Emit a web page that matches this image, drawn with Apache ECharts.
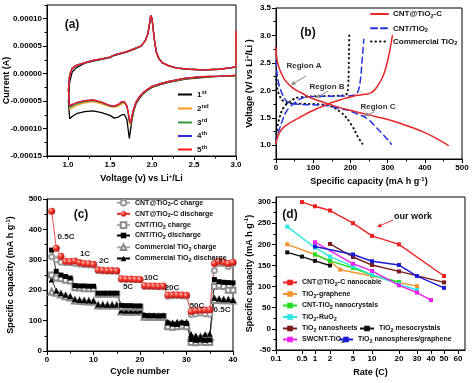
<!DOCTYPE html>
<html><head><meta charset="utf-8">
<script src="https://cdn.jsdelivr.net/npm/echarts@6/dist/echarts.min.js"></script>
<style>html,body{margin:0;padding:0;background:#fff}#c{width:474px;height:383px}</style>
</head><body><div id="c"></div>
<script>
const FONT = 'Liberation Sans';

// ---------- Panel (a): cyclic voltammetry ----------
const cvCycles = ['1st','2nd','3rd','4th','5th'];
const cvCathV = [3.0,2.8,2.6,2.4,2.2,2.1,2.0,1.95,1.9,1.85,1.81,1.78,1.76,1.745,1.73,1.715,1.7,1.67,1.64,1.6,1.55,1.5,1.4,1.3,1.2,1.1,1.05,1.02,1.0];
const cvCath1 = [-0.4e-5,-0.5e-5,-0.7e-5,-1.0e-5,-1.6e-5,-2.0e-5,-2.5e-5,-3.0e-5,-3.6e-5,-4.5e-5,-5.5e-5,-7.0e-5,-8.6e-5,-10.2e-5,-11.8e-5,-10.0e-5,-8.3e-5,-7.4e-5,-7.5e-5,-7.9e-5,-8.1e-5,-7.6e-5,-7.1e-5,-6.8e-5,-6.9e-5,-7.3e-5,-7.8e-5,-8.2e-5,-8.5e-5];
const cvCath2 = [-0.35e-5,-0.5e-5,-0.6e-5,-0.9e-5,-1.5e-5,-1.9e-5,-2.4e-5,-2.9e-5,-3.5e-5,-4.3e-5,-5.3e-5,-6.7e-5,-8.1e-5,-9.4e-5,-9.0e-5,-7.2e-5,-6.0e-5,-5.4e-5,-5.5e-5,-5.9e-5,-6.1e-5,-6.0e-5,-5.5e-5,-5.1e-5,-5.3e-5,-5.8e-5,-6.2e-5,-6.5e-5,-6.8e-5];
const cvCath3 = [-0.3e-5,-0.45e-5,-0.55e-5,-0.8e-5,-1.4e-5,-1.8e-5,-2.3e-5,-2.85e-5,-3.45e-5,-4.25e-5,-5.25e-5,-6.6e-5,-7.9e-5,-9.1e-5,-8.6e-5,-7.0e-5,-5.9e-5,-5.2e-5,-5.3e-5,-5.7e-5,-6.0e-5,-5.9e-5,-5.3e-5,-4.9e-5,-5.1e-5,-5.5e-5,-5.9e-5,-6.1e-5,-6.4e-5];
const cvCath4 = [-0.3e-5,-0.45e-5,-0.55e-5,-0.8e-5,-1.4e-5,-1.8e-5,-2.3e-5,-2.8e-5,-3.4e-5,-4.2e-5,-5.2e-5,-6.5e-5,-7.8e-5,-9.0e-5,-8.4e-5,-6.9e-5,-5.8e-5,-5.1e-5,-5.1e-5,-5.6e-5,-5.9e-5,-5.8e-5,-5.2e-5,-4.8e-5,-4.9e-5,-5.3e-5,-5.7e-5,-5.9e-5,-6.2e-5];
const cvCath5 = [-0.3e-5,-0.45e-5,-0.55e-5,-0.8e-5,-1.4e-5,-1.8e-5,-2.3e-5,-2.8e-5,-3.4e-5,-4.2e-5,-5.2e-5,-6.5e-5,-7.8e-5,-8.9e-5,-8.2e-5,-6.8e-5,-5.8e-5,-5.1e-5,-5.1e-5,-5.6e-5,-5.9e-5,-5.8e-5,-5.2e-5,-4.8e-5,-4.9e-5,-5.3e-5,-5.6e-5,-5.8e-5,-6.1e-5];
const cvAnodV = [1.005,1.02,1.05,1.1,1.2,1.3,1.4,1.5,1.55,1.6,1.7,1.8,1.87,1.92,1.95,1.97,1.985,2.0,2.015,2.03,2.05,2.08,2.12,2.2,2.3,2.45,2.6,2.8,2.95,3.0];
const cvAnod1 = [-5.0e-5,-1.5e-5,0.3e-5,1.1e-5,1.9e-5,2.3e-5,2.6e-5,2.9e-5,3.3e-5,3.5e-5,3.9e-5,4.5e-5,5.0e-5,6.0e-5,7.2e-5,9.0e-5,10.4e-5,10.0e-5,8.0e-5,6.0e-5,4.0e-5,2.8e-5,2.0e-5,1.4e-5,1.0e-5,0.8e-5,0.7e-5,0.8e-5,1.1e-5,1.3e-5];
const cvAnod = [-3.0e-5,-0.2e-5,1.0e-5,1.5e-5,2.0e-5,2.4e-5,2.7e-5,3.0e-5,3.4e-5,3.6e-5,4.0e-5,4.6e-5,5.0e-5,6.0e-5,7.2e-5,9.0e-5,10.6e-5,10.1e-5,8.0e-5,6.0e-5,4.0e-5,2.8e-5,2.0e-5,1.4e-5,1.0e-5,0.8e-5,0.7e-5,0.8e-5,1.1e-5,1.3e-5];
const cv5thEnd = [3.0, 7.8e-5];
const cvColors = ['#000000','#ff9a1a','#2e9a3c','#2a2ae0','#ff1a1a'];

// ---------- Panel (b): charge/discharge profiles [capacity, voltage] ----------
const bNames = ['CNT@TiO2-C','CNT/TiO2','Commercial TiO2'];
const bRedDis = [[0,2.78],[1,2.66],[3,2.55],[6,2.46],[10,2.38],[15,2.3],[21,2.22],[30,2.14],[44,2.05],[60,1.98],[75,1.93],[92,1.87],[111,1.82],[130,1.78],[147,1.74],[170,1.69],[192,1.65],[220,1.6],[246,1.56],[275,1.51],[300,1.47],[325,1.42],[350,1.36],[375,1.3],[400,1.23],[430,1.13],[463,1.0]];
const bRedCha = [[0,1.03],[2,1.1],[6,1.18],[12,1.26],[21,1.33],[35,1.4],[48,1.45],[62,1.5],[75,1.55],[92,1.61],[111,1.67],[130,1.72],[147,1.77],[165,1.81],[183,1.85],[200,1.88],[219,1.91],[235,1.925],[246,1.935],[256,1.96],[264,2.0],[272,2.07],[282,2.18],[290,2.3],[298,2.48],[304,2.66],[310,2.88],[313,3.0]];
const bBlueDis = [[0,2.55],[2,2.35],[5,2.2],[9,2.08],[15,1.96],[22,1.86],[30,1.79],[40,1.76],[55,1.75],[80,1.74],[110,1.735],[140,1.72],[165,1.68],[192,1.64],[215,1.58],[237,1.52],[255,1.43],[273,1.3],[290,1.18],[302,1.09],[310,1.02]];
const bBlueCha = [[0,1.05],[3,1.15],[7,1.25],[12,1.35],[21,1.52],[30,1.64],[44,1.74],[62,1.83],[75,1.87],[100,1.89],[150,1.895],[200,1.9],[212,1.92],[219,1.96],[224,2.06],[228,2.25],[231,2.5],[234,2.75],[236,2.93]];
const bComDis = [[0,2.2],[2,2.08],[5,1.98],[8,1.93],[12,1.87],[17,1.82],[24,1.79],[30,1.77],[50,1.76],[80,1.755],[110,1.75],[140,1.73],[155,1.69],[165,1.65],[180,1.57],[192,1.48],[202,1.38],[210,1.29],[219,1.17],[226,1.09],[232,1.03]];
const bComCha = [[0,1.12],[2,1.25],[5,1.37],[8,1.47],[12,1.56],[17,1.65],[24,1.72],[30,1.76],[40,1.81],[53,1.86],[70,1.88],[100,1.89],[130,1.895],[160,1.9],[185,1.91],[192,1.95],[195,2.2],[196,2.6],[197,3.02]];

// ---------- Panel (c): rate capability vs cycle ----------
const cCycles = [1,2,3,4,5,6,7,8,9,10,11,12,13,14,15,16,17,18,19,20,21,22,23,24,25,26,27,28,29,30,31,32,33,34,35,36,37,38,39,40];
const cNames = ['CNT@TiO2-C charge','CNT@TiO2-C discharge','CNT/TiO2 charge','CNT/TiO2 discharge','Commercial TiO2 charge','Commercial TiO2 discharge'];
const cRedCha = [310,300,292,290,290,288,285,284,283,282,264,263,262,262,262,236,235,235,234,234,212,212,211,211,211,180,182,182,181,180,120,122,125,122,121,265,288,287,278,288];
const cRedDis = [460,338,312,295,294,296,291,288,287,285,267,266,265,265,264,238,237,237,236,235,215,214,214,213,214,184,185,185,184,183,130,133,134,135,136,288,295,293,288,292];
const cCntCha = [250,240,238,233,230,208,207,205,205,205,186,187,187,187,187,145,145,145,144,144,113,113,113,113,113,80,78,80,82,80,28,27,30,28,28,212,215,212,200,200];
const cCntDis = [332,262,250,245,240,215,214,214,213,213,190,190,190,190,190,150,149,149,148,148,117,116,116,115,116,92,88,87,92,90,38,35,36,35,36,235,228,226,225,224];
const cComCha = [195,192,186,180,176,166,165,164,163,162,150,150,150,150,150,130,129,129,129,129,113,112,112,112,112,85,83,85,86,85,45,44,45,44,46,168,168,167,167,166];
const cComDis = [235,198,190,185,180,170,168,167,166,165,153,153,152,152,152,133,132,132,132,132,116,115,115,115,115,96,94,96,95,96,55,50,48,55,57,175,172,170,170,168];
const cRateLabels = ['0.5C','1C','2C','5C','10C','20C','50C','0.5C'];

// ---------- Panel (d): comparison vs rate ----------
const dNames = ['CNT@TiO2-C nanocable','TiO2-graphene','CNT-TiO2 nanocrystals','TiO2-RuO2','TiO2 nanosheets','TiO2 mesocrystals','SWCNT-TiO2','TiO2 nanospheres/graphene'];
const dRateOurs = [0.5,1,2,5,10,20,50];      const dCapOurs = [300,290,280,250,220,200,125];
const dRateTG = [0.2,1,2,3,10,20,30];         const dCapTG = [200,176,160,140,125,110,101];
const dRateCNT = [1,2,5,10,20];               const dCapCNT = [176,161,144,127,111];
const dRateRu = [0.2,1,2,5,10,20,30];         const dCapRu = [242,192,171,148,128,106,92];
const dRateNS = [2,5,10,20,50];               const dCapNS = [201,170,151,136,110];
const dRateMeso = [0.2,0.5,1,2];              const dCapMeso = [181,171,161,150];
const dRateSW = [1,5,10,20,30,40];            const dCapSW = [205,154,137,103,86,68];
const dRateNSG = [1,5,10,20,30,50];           const dCapNSG = [195,176,160,151,125,97];
const dColors = ['#ee2222','#f39430','#22dd22','#2ee6e6','#7a1c1c','#111111','#ee22ee','#1c1cd6'];
// the rate axis of the original figure is non-uniform: tick values and their axis positions
const rateTicks = [0.1,0.5,1,2,5,10,20,30,40,50,60];
const rateTickPos = [0,26,39,54,77,96,123,141,155,168,182];
const rateAxisMax = 189;
function rateToU(r){
  for (let i=0;i<rateTicks.length-1;i++){
    if (r>=rateTicks[i] && r<=rateTicks[i+1]){
      const f=(Math.log(r)-Math.log(rateTicks[i]))/(Math.log(rateTicks[i+1])-Math.log(rateTicks[i]));
      return rateTickPos[i]+f*(rateTickPos[i+1]-rateTickPos[i]);
    }
  }
  return rateTickPos[rateTickPos.length-1];
}

// ---------- helpers ----------
const RICH = {
  s:{fontSize:5.5, padding:[4,0,0,0]},
  p:{fontSize:6, padding:[0,0,5,0]}
};
function richName(n){ return n.replace(/O2/g,'O{s|2}').replace(/^(\d)(st|nd|rd|th)$/,'$1{p|$2}'); }
const grids = [
  {left:47, top:5, width:189, height:151},
  {left:276, top:8, width:186, height:151},
  {left:47, top:199, width:186, height:152},
  {left:276, top:197, width:189, height:153}
];
const xAxes=[], yAxes=[];
function addAxis(list, gi, isX, o){
  const pos = isX?'bottom':'left';
  const ax = {type:'value', gridIndex:gi, min:o.min, max:o.max, position:pos,
    axisLine:{show:true,onZero:false,lineStyle:{color:'#000',width:1}},
    axisTick:{show:true,customValues:o.major,length:4,lineStyle:{color:'#000',width:1}},
    axisLabel:{show:true,customValues:o.major,formatter:o.fmt,margin:o.margin||5,fontFamily:FONT,fontWeight:'bold',fontSize:8,color:'#000',hideOverlap:false},
    splitLine:{show:false},
    name:o.name,nameLocation:'middle',nameGap:o.gap,
    nameTextStyle:{fontFamily:FONT,fontWeight:'bold',fontSize:9,color:'#000',rich:RICH}
  };
  if (o.noMove) ax.nameMoveOverlap = false;
  list.push(ax);
  list.push({type:'value', gridIndex:gi, min:o.min, max:o.max, position:pos,
    axisLine:{show:false,onZero:false},
    axisTick:{show:!!o.minor,customValues:o.minor||[],length:2.5,lineStyle:{color:'#000',width:1}},
    axisLabel:{show:false}, splitLine:{show:false}
  });
}
// (a)
addAxis(xAxes,0,true,{min:0.75,max:3.0,major:[1,1.5,2,2.5,3],minor:[0.75,1.25,1.75,2.25,2.75],fmt:v=>v.toFixed(1),name:'Voltage (v) vs Li{p|+}/Li',gap:17});
addAxis(yAxes,0,false,{min:-0.00015,max:0.000125,major:[-0.00015,-0.0001,-0.00005,0,0.00005,0.0001],minor:[-0.000125,-0.000075,-0.000025,0.000025,0.000075,0.000125],fmt:v=>v.toFixed(5),name:'Current (A)',gap:36,noMove:true});
// (b)
addAxis(xAxes,1,true,{min:0,max:500,major:[0,100,200,300,400,500],minor:[50,150,250,350,450],fmt:v=>String(v),name:'Specific capacity (mA h g{p|-1})',gap:17});
addAxis(yAxes,1,false,{min:0.75,max:3.5,major:[1,1.5,2,2.5,3,3.5],minor:[0.75,1.25,1.75,2.25,2.75,3.25],fmt:v=>v.toFixed(1),name:'Voltage (V/ vs Li{p|+}/Li )',gap:21});
// (c)
addAxis(xAxes,2,true,{min:0,max:40,major:[0,10,20,30,40],minor:[5,15,25,35],fmt:v=>String(v),name:'Cycle number',gap:16});
addAxis(yAxes,2,false,{min:0,max:500,major:[0,100,200,300,400,500],minor:[50,150,250,350,450],fmt:v=>String(v),name:'Specific capacity (mA h g{p|-1})',gap:31});
// (d)
addAxis(xAxes,3,true,{min:0,max:rateAxisMax,major:rateTickPos,minor:null,fmt:v=>{const i=rateTickPos.indexOf(v);return i>=0?String(rateTicks[i]):'';},name:'Rate (C)',gap:18});
addAxis(yAxes,3,false,{min:-50,max:312,major:[-50,0,50,100,150,200,250,300],minor:[-25,25,75,125,175,225,275],fmt:v=>String(v),name:'Specific capacity (mA h g{p|-1})',gap:21});

const series=[];
// (a)
const cvCath=[cvCath1,cvCath2,cvCath3,cvCath4,cvCath5];
cvCycles.forEach((nm,k)=>{
  const an = k===0?cvAnod1:cvAnod;
  const pts = cvCathV.map((v,i)=>[v,cvCath[k][i]]).concat(cvAnodV.map((v,i)=>[v,an[i]]));
  if(k===4) pts.push(cv5thEnd);
  series.push({type:'line',name:nm,xAxisIndex:0,yAxisIndex:0,data:pts,symbol:'none',
    lineStyle:{color:cvColors[k],width:1.3},itemStyle:{color:cvColors[k]}});
});
// (b)
function bLine(name,data,color,type,width,withName){
  series.push({type:'line',name:withName?name:name+'_',xAxisIndex:2,yAxisIndex:2,data,symbol:'none',smooth:0.2,
    lineStyle:{color,width,type,cap:'round'},itemStyle:{color}});
}
bLine(bNames[2],bComDis,'#111',[0.5,4],2,true);
bLine(bNames[2],bComCha,'#111',[0.5,4],2,false);
bLine(bNames[1],bBlueDis,'#2233dd',[6,4],1.5,true);
bLine(bNames[1],bBlueCha,'#2233dd',[6,4],1.5,false);
bLine(bNames[0],bRedDis,'#e8262a','solid',1.5,true);
bLine(bNames[0],bRedCha,'#e8262a','solid',1.5,false);
// (c)
const ballRed = new echarts.graphic.RadialGradient(0.35,0.35,0.7,[{offset:0,color:'#ffc0b8'},{offset:0.45,color:'#f2392e'},{offset:1,color:'#b81010'}]);
const cDefs = [
  [cNames[4],cComCha,'emptyTriangle',6,'#8a8a8a','#aaaaaa'],
  [cNames[5],cComDis,'triangle',6,'#000','#000'],
  [cNames[2],cCntCha,'emptyRect',5,'#8a8a8a','#aaaaaa'],
  [cNames[3],cCntDis,'rect',5,'#000','#000'],
  [cNames[0],cRedCha,'emptyCircle',5,'#999999','#aaaaaa'],
  [cNames[1],cRedDis,'circle',7,ballRed,'#e8262a']
];
cDefs.forEach(d=>{
  series.push({type:'line',name:d[0],xAxisIndex:4,yAxisIndex:4,data:cCycles.map((c,i)=>[c,d[1][i]]),
    symbol:d[2],symbolSize:d[3],showAllSymbol:true,itemStyle:{color:d[4],borderWidth:1},lineStyle:{color:d[5],width:0.8}});
});
// (d)
const dSets=[[dRateOurs,dCapOurs],[dRateTG,dCapTG],[dRateCNT,dCapCNT],[dRateRu,dCapRu],[dRateNS,dCapNS],[dRateMeso,dCapMeso],[dRateSW,dCapSW],[dRateNSG,dCapNSG]];
const dOrder=[5,4,1,2,3,6,7,0];
dOrder.forEach(k=>{
  series.push({type:'line',name:dNames[k],xAxisIndex:6,yAxisIndex:6,data:dSets[k][0].map((r,i)=>[rateToU(r),dSets[k][1][i]]),
    symbol:'rect',symbolSize:4,lineStyle:{color:dColors[k],width:1.4},itemStyle:{color:dColors[k]}});
});

// legends
const legends=[];
function lg(name,left,yc,w,fs,lineOnly){
  const L={data:[name],left,top:yc-5,itemWidth:w,itemHeight:7,padding:0,selectedMode:false,
    formatter:richName,textStyle:{fontFamily:FONT,fontWeight:'bold',fontSize:fs,color:'#111',rich:RICH}};
  if(lineOnly){ L.itemStyle={color:'rgba(0,0,0,0)',borderColor:'rgba(0,0,0,0)',borderWidth:0,opacity:0}; }
  legends.push(L);
}
[94,108,122,135.5,149].forEach((y,k)=>lg(cvCycles[k],177,y,14,8,true));
[15,29.3,42.5].forEach((y,k)=>lg(bNames[k],370,y,17,8,true));
[204,215.3,226.3,237,248.5,260].forEach((y,k)=>lg(cNames[k],116,y,13,7));
[[0,282,284],[1,282,295.5],[2,282,307],[3,282,318.5],[4,282,330],[6,282,341],[5,359,330],[7,338,341]].forEach(a=>lg(dNames[a[0]],a[1],a[2],14,7));

// annotations
function txt(t,x,y,fs,color){return {type:'text',x,y,style:{text:t,fontFamily:FONT,fontWeight:'bold',fontSize:fs,fill:color||'#111',textAlign:'center',textVerticalAlign:'middle'},z:50};}
function arrow(x1,y1,x2,y2,color){
  const a=Math.atan2(y2-y1,x2-x1),h=4.5,w=2.2;
  const bx=x2-h*Math.cos(a),by=y2-h*Math.sin(a);
  return [
    {type:'line',shape:{x1,y1,x2:bx,y2:by},style:{stroke:color,lineWidth:1},z:50},
    {type:'polygon',shape:{points:[[x2,y2],[bx+w*Math.sin(a),by-w*Math.cos(a)],[bx-w*Math.sin(a),by+w*Math.cos(a)]]},style:{fill:color},z:50}
  ];
}
const cRatePos=[[66,237],[85,254],[104,261],[128,287],[151,278],[172,288],[197,306],[222,310]];
const gfx=[
  txt('(a)',72,25,12), txt('(b)',308,33,12), txt('(c)',81,215,12), txt('(d)',290,215,12),
  txt('Region A',304,66,8,'#333'), txt('Region B',327,87,8,'#333'), txt('Region C',378,107,8,'#333'),
  ...arrow(306,76,291,85,'#888'), ...arrow(328,91,316,98,'#888'), ...arrow(374,112,364,116,'#888'),
  txt('our work',413,217,9,'#111'), ...arrow(393,220,377,227,'#e8262a')
];
cRateLabels.forEach((t,i)=>gfx.push(txt(t,cRatePos[i][0],cRatePos[i][1],8,'#222')));

const chart=echarts.init(document.getElementById('c'),null,{renderer:'canvas'});
chart.setOption({
  animation:false,backgroundColor:'#fff',
  grid:grids.map(g=>Object.assign({show:true,borderColor:'#000',borderWidth:1,backgroundColor:'transparent',outerBoundsMode:'none'},g)),
  xAxis:xAxes,yAxis:yAxes,series,legend:legends,graphic:{elements:gfx}
});
</script></body></html>
